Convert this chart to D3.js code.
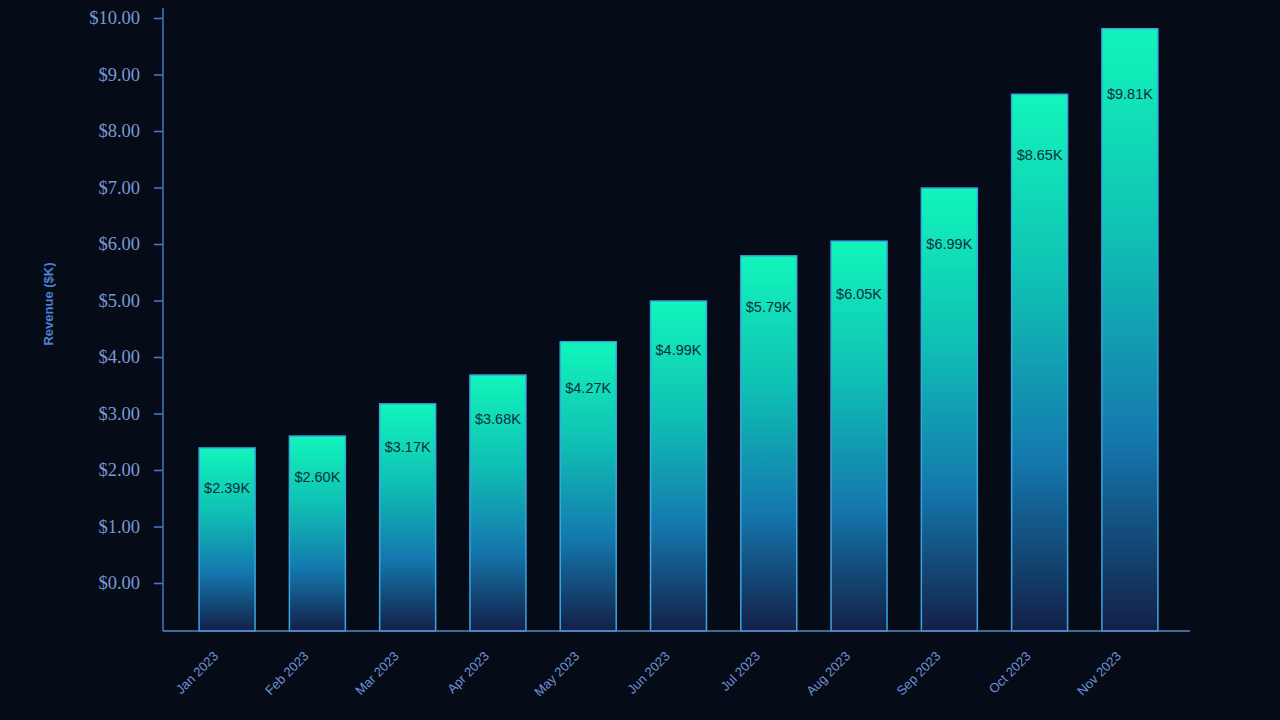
<!DOCTYPE html>
<html>
<head>
<meta charset="utf-8">
<script src="https://cdn.jsdelivr.net/npm/d3@7"></script>
<style>
  html, body { margin: 0; padding: 0; background: #050c18; }
  svg { display: block; }
</style>
</head>
<body>
<svg id="chart" width="1280" height="720"></svg>
<script>
// ---- data ----
const categories = ["Jan 2023", "Feb 2023", "Mar 2023", "Apr 2023", "May 2023", "Jun 2023",
                    "Jul 2023", "Aug 2023", "Sep 2023", "Oct 2023", "Nov 2023"];
const revenue = [2.39, 2.60, 3.17, 3.68, 4.27, 4.99, 5.79, 6.05, 6.99, 8.65, 9.81];
const tickValues = [0, 1, 2, 3, 4, 5, 6, 7, 8, 9, 10];
const tickLabels = ["$0.00", "$1.00", "$2.00", "$3.00", "$4.00", "$5.00",
                    "$6.00", "$7.00", "$8.00", "$9.00", "$10.00"];
const yTitle = "Revenue ($K)";

(function () {
// ---- layout ----
const svg = d3.select("#chart");
const W = 1280, H = 720;
const mLeft = 163, mRight = 1194, mTop = 8, mBottom = 631;

svg.append("rect").attr("width", W).attr("height", H).attr("fill", "#050c18");

const defs = svg.append("defs");
const grad = defs.append("linearGradient")
  .attr("id", "barGrad").attr("x1", 0).attr("y1", 0).attr("x2", 0).attr("y2", 1);
grad.append("stop").attr("offset", "0%").attr("stop-color", "#12f5bb");
grad.append("stop").attr("offset", "35%").attr("stop-color", "#0fc0b4");
grad.append("stop").attr("offset", "68%").attr("stop-color", "#1478ae");
grad.append("stop").attr("offset", "100%").attr("stop-color", "#132048");

const x = d3.scaleBand().domain(categories).range([mLeft, mRight])
  .paddingInner(0.38).paddingOuter(0.4);

// tick 0 sits at y=583, tick 10 at y=18; the baseline is below tick 0
const y = d3.scaleLinear().domain([0, 10]).range([583, 18]);
const yBase = mBottom;

// bars
const bars = svg.append("g");
bars.selectAll("rect").data(revenue).join("rect")
  .attr("x", (d, i) => x(categories[i]))
  .attr("width", x.bandwidth())
  .attr("y", d => y(d))
  .attr("height", d => yBase - y(d))
  .attr("fill", "url(#barGrad)")
  .attr("stroke", "#3aa6e0")
  .attr("stroke-width", 1.5);

// bar value labels
bars.selectAll("text").data(revenue).join("text")
  .attr("x", (d, i) => x(categories[i]) + x.bandwidth() / 2)
  .attr("y", d => y(d) + 34 + 0.06 * (yBase - y(d)))
  .attr("text-anchor", "middle")
  .attr("font-family", "'Liberation Sans', Arial, sans-serif")
  .attr("font-size", 14.5)
  .attr("fill", "#082e3c")
  .text(d => "$" + d.toFixed(2) + "K");

// y axis
const yAxis = svg.append("g").attr("transform", `translate(${mLeft},0)`)
  .call(d3.axisLeft(y).tickValues(tickValues).tickSize(9).tickPadding(14)
    .tickFormat((d, i) => tickLabels[i]));
yAxis.select(".domain").remove();
yAxis.selectAll(".tick line").attr("stroke", "#4a7cc4").attr("stroke-width", 1.5);
yAxis.selectAll(".tick text")
  .attr("fill", "#7b98d6")
  .attr("font-family", "'Liberation Serif', 'DejaVu Serif', serif")
  .attr("font-size", 18.5);
svg.append("line").attr("x1", mLeft).attr("x2", mLeft).attr("y1", mTop).attr("y2", mBottom)
  .attr("stroke", "#3f78c4").attr("stroke-width", 1.5);

// x axis
const xAxis = svg.append("g").attr("transform", `translate(0,${mBottom})`)
  .call(d3.axisBottom(x).tickSize(0).tickPadding(0));
xAxis.select(".domain").remove();
xAxis.selectAll(".tick text")
  .attr("fill", "#6f90d4")
  .attr("font-family", "'Liberation Sans', Arial, sans-serif")
  .attr("font-size", 13)
  .attr("text-anchor", "end")
  .attr("dy", 0)
  .attr("transform", "translate(-8,26) rotate(-45)");
svg.append("line").attr("x1", mLeft).attr("x2", 1190).attr("y1", mBottom).attr("y2", mBottom)
  .attr("stroke", "#5a84c4").attr("stroke-width", 1.5);

// y title
svg.append("text")
  .attr("transform", `translate(53,304) rotate(-90)`)
  .attr("text-anchor", "middle")
  .attr("font-family", "'Liberation Sans', Arial, sans-serif")
  .attr("font-size", 13)
  .attr("font-weight", "bold")
  .attr("fill", "#4f7fd0")
  .text(yTitle);
})();
</script>
</body>
</html>
